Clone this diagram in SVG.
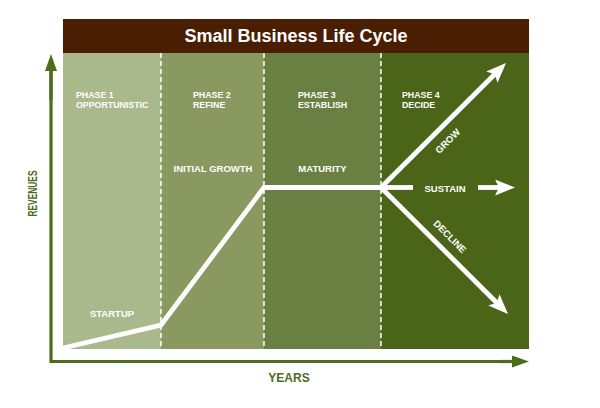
<svg xmlns="http://www.w3.org/2000/svg" width="600" height="408" viewBox="0 0 600 408">
<style>
.lbl{font-family:"Liberation Sans",Arial,sans-serif;font-weight:bold;fill:#ffffff}
.ph{font-size:8.8px}
.st{font-size:9.5px}
.ax{font-family:"Liberation Sans",Arial,sans-serif;font-weight:bold;fill:#4e6b1e;font-size:12px}
.div{stroke:#ffffff;stroke-width:1.5;stroke-dasharray:5,3;fill:none}
.wl{stroke:#ffffff;stroke-width:4.8;fill:none}
</style>
<defs>
<marker id="wh" markerUnits="userSpaceOnUse" viewBox="0 0 20 16" markerWidth="20" markerHeight="16" refX="4" refY="8" orient="auto">
<path d="M0,0 L20,8 L0,16 L4,8 z" fill="#ffffff"/>
</marker>
<marker id="gh" markerUnits="userSpaceOnUse" viewBox="0 0 17 12" markerWidth="17" markerHeight="12" refX="0" refY="6" orient="auto">
<path d="M0,0 L17,6 L0,12 z" fill="#4e6b1e"/>
</marker>
</defs>
<rect width="600" height="408" fill="#ffffff"/>
<g id="title">
<rect x="63" y="19" width="466" height="34" fill="#4a1e03"/>
<text class="lbl" x="296" y="42" font-size="18" text-anchor="middle">Small Business Life Cycle</text>
</g>
<g id="phase1">
<rect x="63" y="53" width="98" height="296" fill="#aab98c"/>
<text class="lbl ph" x="76" y="97.5">PHASE 1</text>
<text class="lbl ph" x="76" y="107.5">OPPORTUNISTIC</text>
<text class="lbl st" x="112" y="317" text-anchor="middle">STARTUP</text>
</g>
<g id="phase2">
<rect x="161" y="53" width="103" height="296" fill="#89995f"/>
<text class="lbl ph" x="193" y="97.5">PHASE 2</text>
<text class="lbl ph" x="193" y="107.5">REFINE</text>
<text class="lbl st" x="213" y="172" text-anchor="middle">INITIAL GROWTH</text>
</g>
<g id="phase3">
<rect x="264" y="53" width="117" height="296" fill="#6a8042"/>
<text class="lbl ph" x="298" y="97.5">PHASE 3</text>
<text class="lbl ph" x="298" y="107.5">ESTABLISH</text>
<text class="lbl st" x="322.5" y="172" text-anchor="middle">MATURITY</text>
</g>
<g id="phase4">
<rect x="381" y="53" width="148" height="296" fill="#4a6418"/>
<text class="lbl ph" x="402" y="97.5">PHASE 4</text>
<text class="lbl ph" x="402" y="107.5">DECIDE</text>
<text class="lbl st" x="445" y="191.5" font-size="10" text-anchor="middle">SUSTAIN</text>
<text class="lbl st" transform="translate(447.5,141) rotate(-45)" y="3.5" text-anchor="middle">GROW</text>
<text class="lbl st" transform="translate(450,236.5) rotate(45)" y="3.5" text-anchor="middle">DECLINE</text>
</g>
<g id="connectors">
<line class="div" x1="161" y1="53" x2="161" y2="349"/>
<line class="div" x1="264" y1="53" x2="264" y2="349"/>
<line class="div" x1="381" y1="53" x2="381" y2="349"/>
<polyline class="wl" points="63,348 161,325 264,187.5 381,187.5"/>
<line class="wl" x1="381" y1="187.5" x2="494.7" y2="74.3" marker-end="url(#wh)"/>
<line class="wl" x1="381" y1="187.5" x2="496.7" y2="302.7" marker-end="url(#wh)"/>
<line class="wl" x1="381" y1="187.5" x2="413" y2="187.5"/>
<line class="wl" x1="478" y1="187.5" x2="499" y2="187.5" marker-end="url(#wh)"/>
<polyline points="51,71 51,361.5 512,361.5" fill="none" stroke="#4e6b1e" stroke-width="3.2" stroke-linejoin="miter"/>
<line x1="51" y1="100" x2="51" y2="71" stroke="#4e6b1e" stroke-width="3.2" marker-end="url(#gh)"/>
<line x1="500" y1="361.5" x2="512" y2="361.5" stroke="#4e6b1e" stroke-width="3.2" marker-end="url(#gh)"/>
</g>
<g id="axis-labels">
<text class="ax" x="289" y="382" text-anchor="middle">YEARS</text>
<text class="ax" transform="translate(37,193.5) rotate(-90)" text-anchor="middle" textLength="46" lengthAdjust="spacingAndGlyphs">REVENUES</text>
</g>
</svg>
